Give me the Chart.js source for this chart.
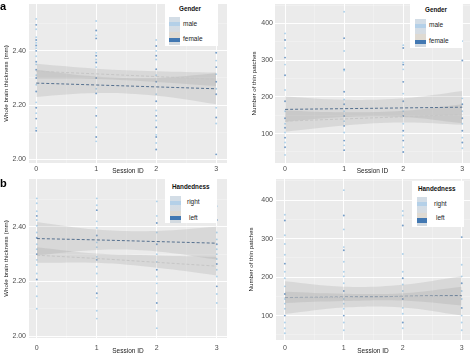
<!DOCTYPE html>
<html><head><meta charset="utf-8">
<script src="https://cdn.jsdelivr.net/npm/chart.js@4.4.1/dist/chart.umd.min.js"></script>
<style>
html,body{margin:0;padding:0;background:#fff;width:474px;height:355px;overflow:hidden;font-family:"Liberation Sans",Arial,sans-serif;}
.panel{position:absolute;}
.lg{position:absolute;background:#fff;}
.lg .t{position:absolute;font-weight:bold;font-size:6.3px;line-height:8px;color:#111;white-space:nowrap;}
.lg .l{position:absolute;font-size:6.5px;line-height:8px;color:#222;white-space:nowrap;}
.lg .k{position:absolute;background:linear-gradient(to bottom,#d3dde6 0%,#d3dde6 18%,#b4d0e8 18%,#b4d0e8 32%,#d3dde6 32%,#d6dce2 55%,#dfdad2 55%,#dfdad2 74%,#4278b2 74%,#4278b2 90%,#d3dae0 90%,#d3dae0 100%);}
.tag{position:absolute;font-weight:bold;font-size:11px;line-height:11px;color:#000;}
</style></head>
<body>
<div class="panel" style="left:0;top:0"><canvas id="c1" width="237" height="175"></canvas></div>
<div class="panel" style="left:237px;top:0"><canvas id="c2" width="237" height="175"></canvas></div>
<div class="panel" style="left:0;top:175px"><canvas id="c3" width="237" height="180"></canvas></div>
<div class="panel" style="left:237px;top:175px"><canvas id="c4" width="237" height="180"></canvas></div>

<div class="tag" style="left:0;top:1px">a</div>
<div class="tag" style="left:0;top:178px">b</div>

<div class="lg" style="left:165px;top:1px;width:53px;height:45px">
  <div class="t" style="left:14px;top:4px">Gender</div>
  <div class="k" style="left:4px;top:16px;width:11px;height:28px"></div>
  <div class="l" style="left:18px;top:19px">male</div>
  <div class="l" style="left:18px;top:34px">female</div>
</div>
<div class="lg" style="left:410px;top:0;width:52px;height:48px">
  <div class="t" style="left:15px;top:6px">Gender</div>
  <div class="k" style="left:5px;top:19px;width:11px;height:28px"></div>
  <div class="l" style="left:19px;top:21px">male</div>
  <div class="l" style="left:19px;top:37px">female</div>
</div>
<div class="lg" style="left:165px;top:175px;width:52px;height:48px">
  <div class="t" style="left:7px;top:8px">Handedness</div>
  <div class="k" style="left:5px;top:21px;width:11px;height:27px"></div>
  <div class="l" style="left:22px;top:23px">right</div>
  <div class="l" style="left:24px;top:39px">left</div>
</div>
<div class="lg" style="left:412px;top:181px;width:52px;height:46px">
  <div class="t" style="left:6px;top:4px">Handedness</div>
  <div class="k" style="left:5px;top:16px;width:10px;height:29px"></div>
  <div class="l" style="left:22px;top:19px">right</div>
  <div class="l" style="left:24px;top:33px">left</div>
</div>

<script>
// ---------- data ----------
const sessions = [0, 1, 2, 3];
const sessionLabels = ['0', '1', '2', '3'];

// Panel a, left: whole brain thickness by gender
const thickMaleMean = [2.325, 2.315, 2.305, 2.295];
const thickMaleLo   = [2.298, 2.296, 2.285, 2.270];
const thickMaleHi   = [2.352, 2.334, 2.325, 2.320];
const thickFemaleMean = [2.281, 2.274, 2.267, 2.260];
const thickFemaleLo   = [2.230, 2.244, 2.234, 2.203];
const thickFemaleHi   = [2.330, 2.305, 2.300, 2.317];
const thickMalePts = [
  [2.518, 2.48, 2.45, 2.43, 2.41, 2.38, 2.35, 2.31, 2.275, 2.21, 2.17, 2.115],
  [2.51, 2.457, 2.393, 2.368, 2.34, 2.26, 2.19, 2.118, 2.066],
  [2.44, 2.40, 2.368, 2.31, 2.24, 2.18, 2.143, 2.09, 2.06],
  [2.546, 2.436, 2.364, 2.314, 2.26, 2.19, 2.132]
];
const thickFemalePts = [
  [2.496, 2.44, 2.42, 2.40, 2.36, 2.33, 2.30, 2.25, 2.19, 2.15, 2.105],
  [2.475, 2.446, 2.382, 2.357, 2.30, 2.243, 2.16, 2.082],
  [2.418, 2.382, 2.332, 2.286, 2.214, 2.16, 2.118, 2.082, 2.036],
  [2.49, 2.393, 2.34, 2.286, 2.24, 2.154, 2.018]
];

// Panel a, right: number of thin patches by gender
const patchMaleMean = [134, 140, 146, 152];
const patchMaleLo   = [105, 122, 130, 124];
const patchMaleHi   = [163, 158, 162, 180];
const patchFemaleMean = [166, 168, 170, 172];
const patchFemaleLo   = [132, 145, 145, 128];
const patchFemaleHi   = [201, 192, 196, 216];
const patchMalePts = [
  [373, 333, 288, 219, 161, 127, 103, 76, 42],
  [432, 325, 272, 193, 161, 134, 103, 68],
  [341, 294, 275, 209, 161, 127, 95, 63],
  [352, 196, 161, 127, 89, 60]
];
const patchFemalePts = [
  [355, 307, 259, 188, 142, 116, 89, 63],
  [360, 275, 214, 180, 148, 121, 81, 55],
  [333, 288, 241, 188, 148, 108, 81, 50],
  [299, 180, 142, 108, 76]
];

// Panel b, left: whole brain thickness by handedness
const thickRightMean = [2.296, 2.284, 2.270, 2.256];
const thickRightLo   = [2.268, 2.268, 2.250, 2.222];
const thickRightHi   = [2.325, 2.302, 2.295, 2.290];
const thickLeftMean = [2.357, 2.352, 2.346, 2.340];
const thickLeftLo   = [2.295, 2.315, 2.310, 2.280];
const thickLeftHi   = [2.418, 2.390, 2.385, 2.400];
const thickRightPts = [
  [2.504, 2.486, 2.457, 2.425, 2.404, 2.379, 2.336, 2.318, 2.279, 2.26, 2.229, 2.182, 2.146, 2.10],
  [2.504, 2.479, 2.42, 2.396, 2.343, 2.325, 2.29, 2.254, 2.229, 2.182, 2.14, 2.093, 2.064],
  [2.493, 2.44, 2.379, 2.30, 2.271, 2.218, 2.193, 2.157, 2.093, 2.029],
  [2.475, 2.379, 2.354, 2.318, 2.30, 2.282, 2.243, 2.218, 2.154, 2.121]
];
const thickLeftPts = [
  [2.44, 2.36, 2.30, 2.207],
  [2.461, 2.368, 2.279, 2.157],
  [2.414, 2.336, 2.243, 2.121],
  [2.425, 2.336, 2.264, 2.182]
];

// Panel b, right: number of thin patches by handedness
const patchRightMean = [146, 147, 149, 150];
const patchRightLo   = [133, 138, 139, 126];
const patchRightHi   = [162, 157, 158, 175];
const patchLeftMean = [147, 148, 150, 152];
const patchLeftLo   = [104, 121, 121, 100];
const patchLeftHi   = [189, 175, 180, 202];
const patchRightPts = [
  [362, 309, 286, 258, 214, 197, 176, 143, 131, 118, 82, 67, 54],
  [426, 324, 278, 240, 214, 202, 184, 143, 131, 118, 82, 62],
  [372, 360, 260, 214, 181, 164, 120, 105, 67],
  [349, 232, 202, 164, 143, 100, 82, 62]
];
const patchLeftPts = [
  [347, 235, 156, 100],
  [360, 270, 164, 100],
  [334, 197, 143, 82],
  [304, 184, 120]
];

// ---------- drawing ----------
const FONT = '"Liberation Sans", Arial, sans-serif';
const BAND = 'rgba(150,150,150,0.22)';
const LIGHT_PT = 'rgba(150,196,230,0.75)';
const DARK_PT = 'rgba(60,118,180,0.7)';
const LIGHT_LINE = '#c6c6c6';
const DARK_LINE = '#55708f';

function line(vals) { return vals.map((v, i) => ({x: sessions[i], y: v})); }
function pts(cols) {
  const out = [];
  cols.forEach((arr, i) => arr.forEach(v => out.push({x: sessions[i], y: v})));
  return out;
}

const bgPlugin = {
  id: 'plotBg',
  beforeDraw(chart) {
    const {ctx, chartArea: a} = chart;
    ctx.save();
    ctx.fillStyle = '#ebebeb';
    ctx.fillRect(a.left, a.top, a.right - a.left, a.bottom - a.top);
    ctx.restore();
  }
};

function makePanel(id, p) {
  const bandDs = (hi, lo) => [
    {data: line(hi), showLine: true, pointRadius: 0, borderColor: 'transparent', borderWidth: 0,
     backgroundColor: BAND, fill: '+1', tension: 0.4, order: 2},
    {data: line(lo), showLine: true, pointRadius: 0, borderColor: 'transparent', borderWidth: 0,
     fill: false, tension: 0.4, order: 2}
  ];
  const meanDs = (m, c) => ({data: line(m), showLine: true, pointRadius: 0, borderColor: c,
     borderWidth: 1, borderDash: [3, 2], fill: false, tension: 0.4, order: 1});
  const ptDs = (d, c) => ({data: pts(d), showLine: false, pointRadius: 0.95, pointBorderWidth: 0,
     backgroundColor: c, borderColor: c, order: 3});

  const datasets = [
    ...bandDs(p.aHi, p.aLo),
    ...bandDs(p.bHi, p.bLo),
    ptDs(p.aPts, LIGHT_PT),
    ptDs(p.bPts, DARK_PT),
    meanDs(p.aMean, LIGHT_LINE),
    meanDs(p.bMean, DARK_LINE)
  ];

  new Chart(document.getElementById(id), {
    type: 'scatter',
    data: {datasets},
    plugins: [bgPlugin],
    options: {
      responsive: false,
      animation: false,
      layout: {padding: {left: 0, right: p.padRight, top: 0, bottom: 0}},
      plugins: {legend: {display: false}, tooltip: {enabled: false}},
      scales: {
        x: {
          type: 'linear', min: p.xMin, max: p.xMax,
          ticks: {
            stepSize: 0.5, includeBounds: false, autoSkip: false, maxRotation: 0,
            padding: p.xTickPad, color: '#4d4d4d', font: {family: FONT, size: 7},
            callback: v => {
              const i = sessions.indexOf(v);
              return i >= 0 ? sessionLabels[i] : '';
            }
          },
          grid: {
            drawTicks: false,
            color: c => Number.isInteger(c.tick.value) ? 'rgba(255,255,255,0.95)' : 'rgba(255,255,255,0.55)',
            lineWidth: c => Number.isInteger(c.tick.value) ? 1 : 0.5
          },
          border: {display: false},
          title: {display: true, text: 'Session ID', color: '#222',
                  font: {family: FONT, size: 6.5}, padding: {top: 0, bottom: 0}},
          afterFit: s => { s.height = p.xH; s.paddingLeft = 0; s.paddingRight = 0; }
        },
        y: {
          type: 'linear', min: p.yMin, max: p.yMax,
          ticks: {
            stepSize: p.yStep, includeBounds: false, autoSkip: false,
            padding: p.yTickPad, color: '#4d4d4d', font: {family: FONT, size: 7},
            callback: v => p.yLabels.includes(Math.round(v * 1000) / 1000) ? p.fmt(v) : ''
          },
          grid: {
            drawTicks: false,
            color: c => p.yLabels.includes(Math.round(c.tick.value * 1000) / 1000) ? 'rgba(255,255,255,0.95)' : 'rgba(255,255,255,0.55)',
            lineWidth: c => p.yLabels.includes(Math.round(c.tick.value * 1000) / 1000) ? 1 : 0.5
          },
          border: {display: false},
          title: {display: true, text: p.yTitle, color: '#222',
                  font: {family: FONT, size: 6.2}, padding: {top: p.yTitlePad, bottom: 0}},
          afterFit: s => { s.width = p.yW; s.paddingTop = 0; s.paddingBottom = 0; }
        }
      }
    }
  });
}

const thickTicks = [2.0, 2.2, 2.4];
const patchTicks = [100, 200, 300, 400];

makePanel('c1', {
  aMean: thickMaleMean, aLo: thickMaleLo, aHi: thickMaleHi, aPts: thickMalePts,
  bMean: thickFemaleMean, bLo: thickFemaleLo, bHi: thickFemaleHi, bPts: thickFemalePts,
  xMin: -0.12, xMax: 3.18, yMin: 1.986, yMax: 2.573, yStep: 0.1, yLabels: thickTicks,
  fmt: v => v.toFixed(2), yTitle: 'Whole brain thickness (mm)',
  padRight: 10, yW: 29, xH: 12, xTickPad: 2, yTickPad: 3, yTitlePad: 3
});
makePanel('c2', {
  aMean: patchMaleMean, aLo: patchMaleLo, aHi: patchMaleHi, aPts: patchMalePts,
  bMean: patchFemaleMean, bLo: patchFemaleLo, bHi: patchFemaleHi, bPts: patchFemalePts,
  xMin: -0.17, xMax: 3.13, yMin: 20, yMax: 453, yStep: 50, yLabels: patchTicks,
  fmt: v => String(Math.round(v)), yTitle: 'Number of thin patches',
  padRight: 2, yW: 38, xH: 12, xTickPad: 2, yTickPad: 2, yTitlePad: 14
});
makePanel('c3', {
  aMean: thickRightMean, aLo: thickRightLo, aHi: thickRightHi, aPts: thickRightPts,
  bMean: thickLeftMean, bLo: thickLeftLo, bHi: thickLeftHi, bPts: thickLeftPts,
  xMin: -0.13, xMax: 3.17, yMin: 1.993, yMax: 2.575, yStep: 0.1, yLabels: thickTicks,
  fmt: v => v.toFixed(2), yTitle: 'Whole brain thickness (mm)',
  padRight: 10, yW: 29, xH: 17, xTickPad: 6, yTickPad: 3, yTitlePad: 3
});
makePanel('c4', {
  aMean: patchRightMean, aLo: patchRightLo, aHi: patchRightHi, aPts: patchRightPts,
  bMean: patchLeftMean, bLo: patchLeftLo, bHi: patchLeftHi, bPts: patchLeftPts,
  xMin: -0.15, xMax: 3.14, yMin: 36.6, yMax: 455, yStep: 50, yLabels: patchTicks,
  fmt: v => String(Math.round(v)), yTitle: 'Number of thin patches',
  padRight: 2, yW: 39, xH: 15, xTickPad: 4, yTickPad: 3, yTitlePad: 11
});
</script>
</body></html>
